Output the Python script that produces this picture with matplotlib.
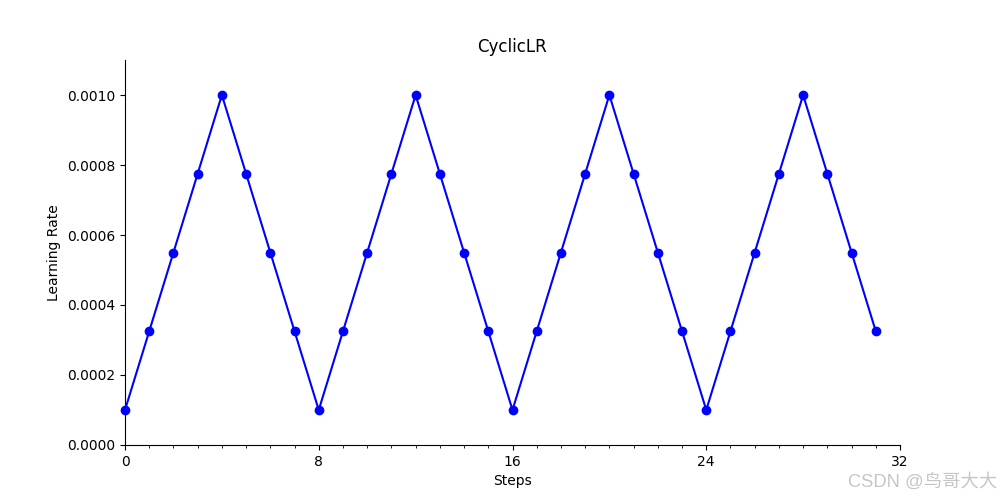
import matplotlib
matplotlib.use("Agg")
import matplotlib.pyplot as plt
from matplotlib.ticker import MultipleLocator

steps = list(range(32))
lrs = [0.0001, 0.000325, 0.00055, 0.000775, 0.001, 0.000775, 0.00055, 0.000325,
       0.0001, 0.000325, 0.00055, 0.000775, 0.001, 0.000775, 0.00055, 0.000325,
       0.0001, 0.000325, 0.00055, 0.000775, 0.001, 0.000775, 0.00055, 0.000325,
       0.0001, 0.000325, 0.00055, 0.000775, 0.001, 0.000775, 0.00055, 0.000325]
major_ticks = [0, 8, 16, 24, 32]
y_ticks = [0.0, 0.0002, 0.0004, 0.0006, 0.0008, 0.0010]

fig = plt.figure(figsize=(10, 5), dpi=100)
ax = fig.add_axes([0.125, 0.11, 0.775, 0.77])
ax.plot(steps, lrs, color='blue', marker='o', markersize=6, clip_on=False, zorder=3)
ax.set_xlim(0, 32)
ax.set_ylim(0, 0.0011)
ax.set_xticks(major_ticks)
ax.xaxis.set_minor_locator(MultipleLocator(1))
ax.set_yticks(y_ticks)
ax.set_yticklabels([f"{v:.4f}" for v in y_ticks])
ax.spines['top'].set_visible(False)
ax.spines['right'].set_visible(False)
ax.set_xlabel('Steps')
ax.set_ylabel('Learning Rate')
ax.set_title('CyclicLR')
fig.text(0.997, 0.036, 'CSDN @鸟哥大大', ha='right', va='center', fontsize=13.2,
         color='#b8b8b8', alpha=0.8, family=['Liberation Sans', 'Noto Sans CJK SC'])
fig.savefig('out.png', dpi=100)
